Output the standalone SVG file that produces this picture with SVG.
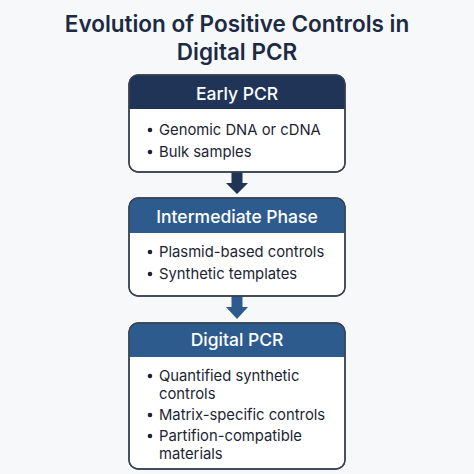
<svg xmlns="http://www.w3.org/2000/svg" width="474" height="474" viewBox="0 0 474 474">
<style>
.title{font-family:Inter,"Noto Sans",sans-serif;font-size:22.5px;font-weight:600;fill:#1c2a44;text-anchor:middle}
.hdr{font-family:Inter,"Noto Sans",sans-serif;font-size:17.5px;font-weight:500;fill:#ffffff;text-anchor:middle}
.item{font-family:Inter,"Noto Sans",sans-serif;font-size:14.8px;fill:#1c2433}
.body{fill:#ffffff;stroke:#3b4150;stroke-width:1.4}
.dot{fill:#1c2433}
</style>
<defs>
<clipPath id="c1"><rect x="129" y="75" width="216" height="97" rx="9"/></clipPath>
<clipPath id="c2"><rect x="129" y="198" width="216" height="98" rx="9"/></clipPath>
<clipPath id="c3"><rect x="129" y="323" width="216" height="146" rx="9"/></clipPath>
</defs>
<rect x="0" y="0" width="474" height="474" fill="#f7f8fa"/>
<text class="title" x="237" y="32">Evolution of Positive Controls in</text>
<text class="title" x="237" y="60">Digital PCR</text>
<g id="connectors">
<path d="M231.5 172 H242.5 V183 H248 L237 194 L226 183 H231.5 Z" fill="#1f3457"/>
<path d="M231.5 296 H242.5 V307 H248 L237 319 L226 307 H231.5 Z" fill="#2d5b8e"/>
</g>
<g id="node-early">
<rect class="body" x="129" y="75" width="216" height="97" rx="9"/>
<rect x="129" y="75" width="216" height="34" fill="#1f3457" clip-path="url(#c1)"/>
<rect x="129" y="75" width="216" height="97" rx="9" fill="none" stroke="#3b4150" stroke-width="1.4"/>
<text class="hdr" x="237" y="100">Early PCR</text>
<circle class="dot" cx="150" cy="130" r="2.3"/>
<text class="item" x="159" y="135">Genomic DNA or cDNA</text>
<circle class="dot" cx="150" cy="152" r="2.3"/>
<text class="item" x="159" y="157">Bulk samples</text>
</g>
<g id="node-intermediate">
<rect class="body" x="129" y="198" width="216" height="98" rx="9"/>
<rect x="129" y="198" width="216" height="35" fill="#2d5b8e" clip-path="url(#c2)"/>
<rect x="129" y="198" width="216" height="98" rx="9" fill="none" stroke="#3b4150" stroke-width="1.4"/>
<text class="hdr" x="237" y="223">Intermediate Phase</text>
<circle class="dot" cx="150" cy="252" r="2.3"/>
<text class="item" x="159" y="257">Plasmid-based controls</text>
<circle class="dot" cx="150" cy="274" r="2.3"/>
<text class="item" x="159" y="279">Synthetic templates</text>
</g>
<g id="node-digital">
<rect class="body" x="129" y="323" width="216" height="146" rx="9"/>
<rect x="129" y="323" width="216" height="34" fill="#2d5b8e" clip-path="url(#c3)"/>
<rect x="129" y="323" width="216" height="146" rx="9" fill="none" stroke="#3b4150" stroke-width="1.4"/>
<text class="hdr" x="237" y="346">Digital PCR</text>
<circle class="dot" cx="150" cy="376" r="2.3"/>
<text class="item" x="159" y="381">Quantified synthetic</text>
<text class="item" x="159" y="398.5">controls</text>
<circle class="dot" cx="150" cy="415" r="2.3"/>
<text class="item" x="159" y="420">Matrix-specific controls</text>
<circle class="dot" cx="150" cy="436" r="2.3"/>
<text class="item" x="159" y="441">Partifion-compatible</text>
<text class="item" x="159" y="458.5">materials</text>
</g>
</svg>
